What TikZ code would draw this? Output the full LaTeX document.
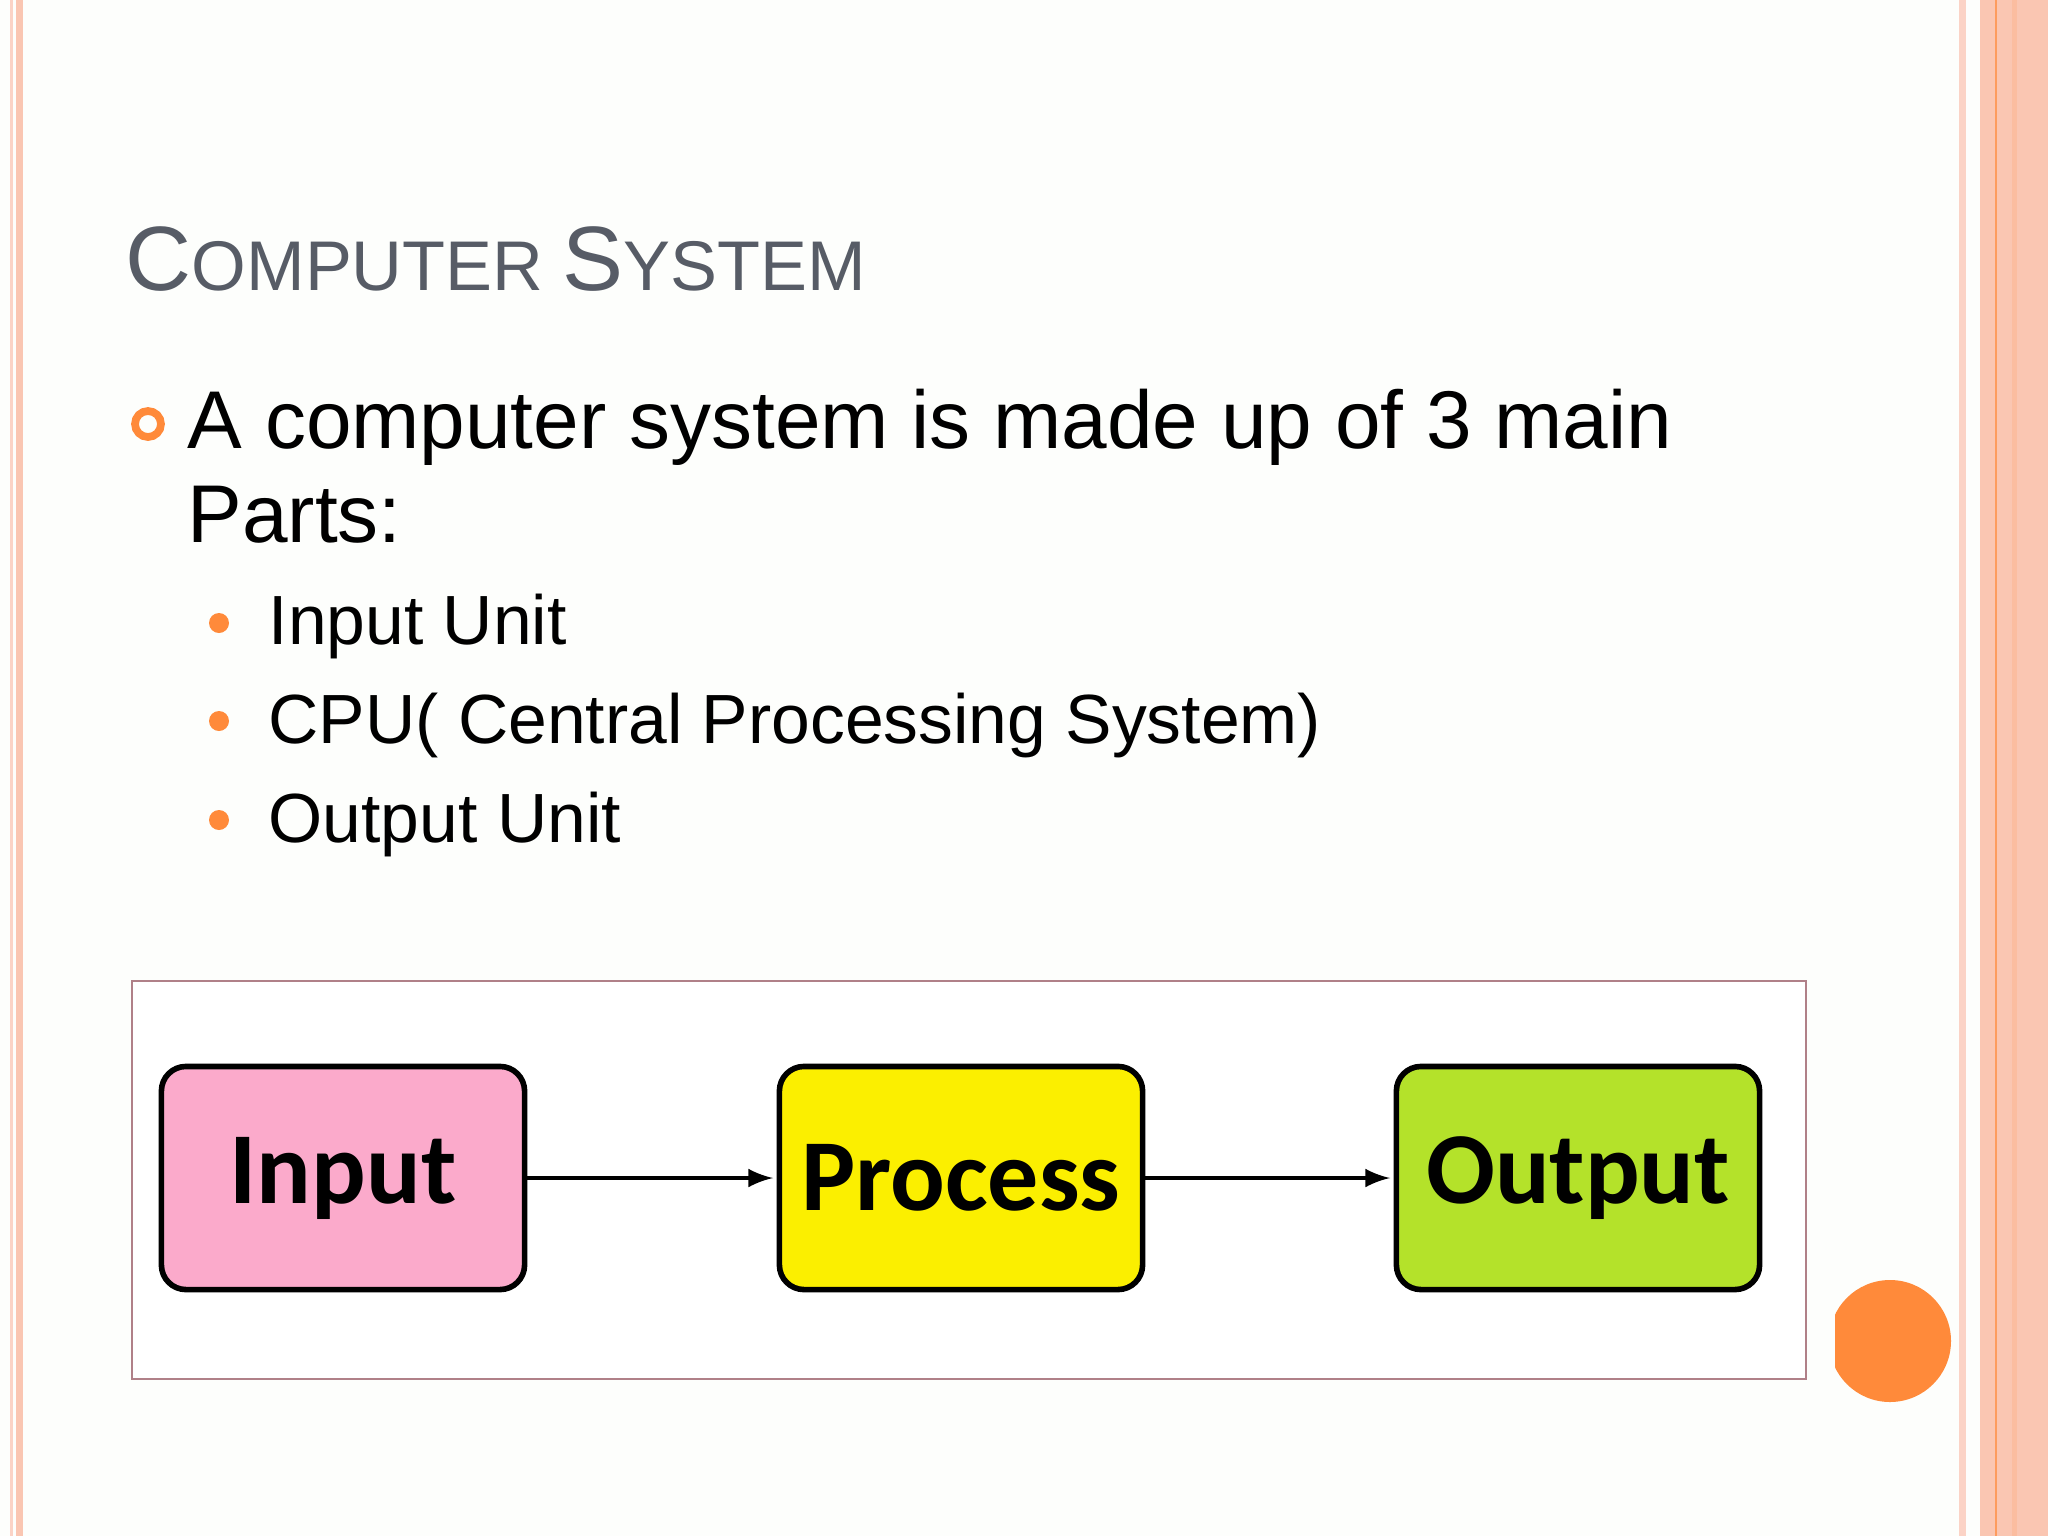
\documentclass[tikz,border=0pt]{standalone}
\usepackage{fontspec}
\setmainfont{Liberation Sans}
\newfontfamily\boxfont{Carlito}
\definecolor{bg}{HTML}{FDFEFC}
\definecolor{stripe}{HTML}{FAC6B2}
\definecolor{stripelt}{HTML}{FBD3C6}
\definecolor{accent}{HTML}{FF8A3A}
\definecolor{titlegray}{HTML}{575C66}
\definecolor{frame}{HTML}{B08088}
\definecolor{inpink}{HTML}{FBAACB}
\definecolor{procyel}{HTML}{FBEF00}
\definecolor{outgreen}{HTML}{B4E22A}
\begin{document}
\begin{tikzpicture}[x=0.01cm,y=-0.01cm,
  block/.style={draw=black,line width=1.6pt,rounded corners=7pt,minimum width=3.63cm,minimum height=2.23cm,
    font=\boxfont\bfseries\fontsize{29}{32}\selectfont},
  flow/.style={-latex,line width=1.4pt,shorten >=1pt},
  body/.style={anchor=base west,inner sep=0pt,font=\fontsize{23.3}{28}\selectfont},
  sub/.style={anchor=base west,inner sep=0pt,font=\fontsize{19.8}{24}\selectfont}]
\useasboundingbox (0,0) rectangle (2048,1536);
\fill[bg] (0,0) rectangle (2048,1536);
% side stripes
\fill[stripelt] (10,0) rectangle (13,1536);
\fill[stripe] (16,0) rectangle (23,1536);
\fill[stripelt] (1959,0) rectangle (1966,1536);
\fill[stripe] (1980,0) rectangle (2048,1536);
\fill[accent!70!stripe] (1995,0) rectangle (1997,1536);
\fill[stripe!85!accent] (2012,0) rectangle (2017,1536);
% title
\node[anchor=base west,inner sep=0pt,text=titlegray] (title) at (125,290)
  {{\fontsize{26}{30}\selectfont C}{\fontsize{20}{24}\selectfont OMPUTER }{\fontsize{26}{30}\selectfont S}{\fontsize{20}{24}\selectfont YSTEM}};
% bullets
\draw[accent,line width=2.2pt] (148,424) circle (13);
\node[body] (l1) at (187,448) {A computer system is made up of 3 main};
\node[body] (l2) at (187,542) {Parts:};
\fill[accent] (219,623) circle (10);
\fill[accent] (219,721) circle (10);
\fill[accent] (219,820) circle (10);
\node[sub] (s1) at (268,644) {Input Unit};
\node[sub] (s2) at (268,743) {CPU( Central Processing System)};
\node[sub] (s3) at (268,842) {Output Unit};
% picture frame
\draw[frame,line width=0.8pt,fill=white] (132,981) rectangle (1806,1379);
\node[block,fill=inpink] (in) at (343,1178) {Input};
\node[block,fill=procyel] (proc) at (961,1178) {Process};
\node[block,fill=outgreen] (out) at (1578,1178) {Output};
\draw[flow] (in.east) -- (proc.west);
\draw[flow] (proc.east) -- (out.west);
% corner dot
\begin{scope}
\clip (1835,1200) rectangle (2000,1500);
\fill[accent] (1890,1341) circle (61);
\end{scope}
\end{tikzpicture}
\end{document}
